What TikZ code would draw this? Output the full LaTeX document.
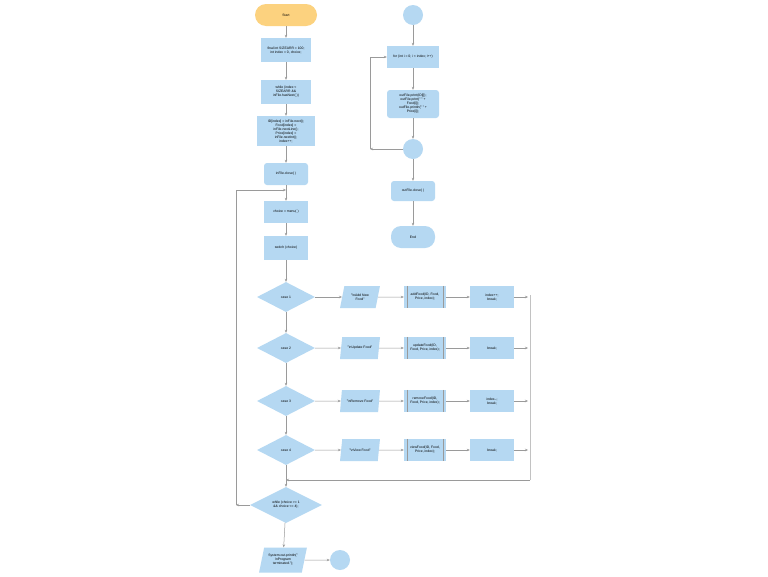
\documentclass[tikz,border=0pt]{standalone}
\usepackage{fontspec}
\setmainfont{Liberation Sans}
\usetikzlibrary{shapes.geometric,arrows.meta}
\definecolor{bx}{HTML}{B5D8F2}
\definecolor{st}{HTML}{FCD27F}
\definecolor{ln}{HTML}{9A9A9A}
\tikzset{
 base/.style={fill=bx,draw=none,align=center,font=\fontsize{3.4}{4}\selectfont,inner sep=1pt},
 box/.style={base,rectangle,minimum width=#1,minimum height=22pt},
 rbox/.style={box=#1,rounded corners=3pt},
 dia/.style={base,diamond,aspect=2,minimum width=58pt,minimum height=30pt},
 para/.style={base,trapezium,trapezium left angle=72,trapezium right angle=108,minimum width=40pt,minimum height=22pt,trapezium stretches=true},
 circ/.style={base,circle,minimum size=20pt},
 ar/.style={draw=ln,line width=0.5pt,-{Stealth[length=3pt,width=2.5pt]}},
 pl/.style={draw=ln,line width=0.5pt},
}
\begin{document}
\begin{tikzpicture}[x=1pt,y=-1pt]
\useasboundingbox[fill=white] (0,0) rectangle (768,576);
% left column
\node[base,rounded corners=11pt,fill=st,minimum width=62pt,minimum height=22pt] (start) at (286,15) {Start};
\node[box=50pt,minimum height=24pt] (b1) at (286,50) {final int SIZEARR = 100;\\ int index = 0, choice;};
\node[box=50pt,minimum height=24pt] (b2) at (286,92) {while (index <\\ SIZEARR \&\&\\ inFile.hasNext( ))};
\node[box=58pt,minimum height=30pt] (b3) at (286,131) {ID[index] = inFile.next();\\ Food[index] =\\ inFile.nextLine();\\ Price[index] =\\ inFile.nextInt();\\ index++;};
\node[rbox=44pt] (b4) at (286,174) {inFile.close( )};
\node[box=44pt] (b5) at (286,212) {choice = menu( )};
\node[box=44pt,minimum height=24pt] (b6) at (286,248) {switch (choice)};
\foreach \i/\y in {1/297,2/348,3/401,4/450}{
  \node[dia] (c\i) at (286,\y) {case \i};
}
\node[para] (p1) at (360,297) {"\textbackslash nAdd New\\ Food"};
\node[para] (p2) at (360,348) {"\textbackslash nUpdate Food"};
\node[para] (p3) at (360,401) {"\textbackslash nRemove Food"};
\node[para] (p4) at (360,450) {"\textbackslash nView Food"};
\node[box=42pt] (f1) at (425,297) {addFood(ID, Food,\\ Price, index);};
\node[box=42pt] (f2) at (425,348) {updateFood(ID,\\ Food, Price, index);};
\node[box=42pt] (f3) at (425,401) {removeFood(ID,\\ Food, Price, index);};
\node[box=42pt] (f4) at (425,450) {viewFood(ID, Food,\\ Price, index);};
\foreach \i in {1,...,4}{
  \draw[ln,line width=0.4pt] ([xshift=3pt]f\i.north west) -- ([xshift=3pt]f\i.south west)
    ([xshift=-3pt]f\i.north east) -- ([xshift=-3pt]f\i.south east);
}
\node[box=44pt] (k1) at (492,297) {index++;\\ break;};
\node[box=44pt] (k2) at (492,348) {break;};
\node[box=44pt] (k3) at (492,401) {index--;\\ break;};
\node[box=44pt] (k4) at (492,450) {break;};
\coordinate (v1) at (528,297);
\coordinate (v2) at (528,348);
\coordinate (v3) at (528,401);
\coordinate (v4) at (528,450);
\coordinate (vt) at (530,295);
\coordinate (vb) at (530,480);
\coordinate (m) at (286,480);
\node[dia,minimum width=72pt,minimum height=36pt] (w) at (286,505) {while (choice >= 1\\ \&\& choice <= 4);};
\coordinate (lb) at (236,505);
\coordinate (lt) at (236,190);
\coordinate (j) at (286,190);
\node[para,minimum width=48pt,minimum height=25pt] (out) at (283,560) {System.out.println("\\ \textbackslash nProgram\\ terminated.");};
\node[circ] (e1) at (340,560) {};
% right column
\node[circ] (o) at (413,15) {};
\node[box=52pt] (fr) at (413,57) {for (int i = 0; i < index; i++)};
\node[rbox=52pt,minimum height=28pt] (pr) at (413,104) {outFile.print(ID[i]);\\ outFile.print(" " +\\ Food[i]);\\ outFile.println(" " +\\ Price[i]);};
\node[circ] (cj) at (413,149) {};
\coordinate (ra) at (370,149);
\coordinate (rb) at (370,57);
\node[rbox=44pt,minimum height=20pt] (oc) at (413,191) {outFile.close( )};
\node[base,rounded corners=10pt,minimum width=44pt,minimum height=22pt] (end) at (413,237) {End};
% connectors
\draw[ar] (start) -- (b1);
\draw[ar] (b1) -- (b2);
\draw[ar] (b2) -- (b3);
\draw[ar] (b3) -- (b4);
\draw[ar] (b4) -- (b5);
\draw[ar] (b5) -- (b6);
\draw[ar] (b6) -- (c1);
\draw[ar] (c1) -- (c2);
\draw[ar] (c2) -- (c3);
\draw[ar] (c3) -- (c4);
\foreach \i in {1,...,4}{
  \draw[ar] (c\i) -- (p\i);
  \draw[ar] (p\i) -- (f\i);
  \draw[ar] (f\i) -- (k\i);
  \draw[ar] (k\i) -- (v\i);
}
\draw[pl,draw=ln!60,line width=0.8pt] (vt) -- (vb);
\draw[ar] (vb) -- (m);
\draw[ar] (c4) -- (w);
\draw[ar] (w.west) -- (lb);
\draw[ar] (lb) -- (lt) -- (j);
\draw[ar] (w) -- (out);
\draw[ar] (out) -- (e1);
\draw[ar] (o) -- (fr);
\draw[ar] (fr) -- (pr);
\draw[ar] (pr) -- (cj);
\draw[ar] (cj) -- (ra);
\draw[ar] (ra) -- (rb) -- (fr);
\draw[ar] (cj) -- (oc);
\draw[ar] (oc) -- (end);
\end{tikzpicture}
\end{document}
